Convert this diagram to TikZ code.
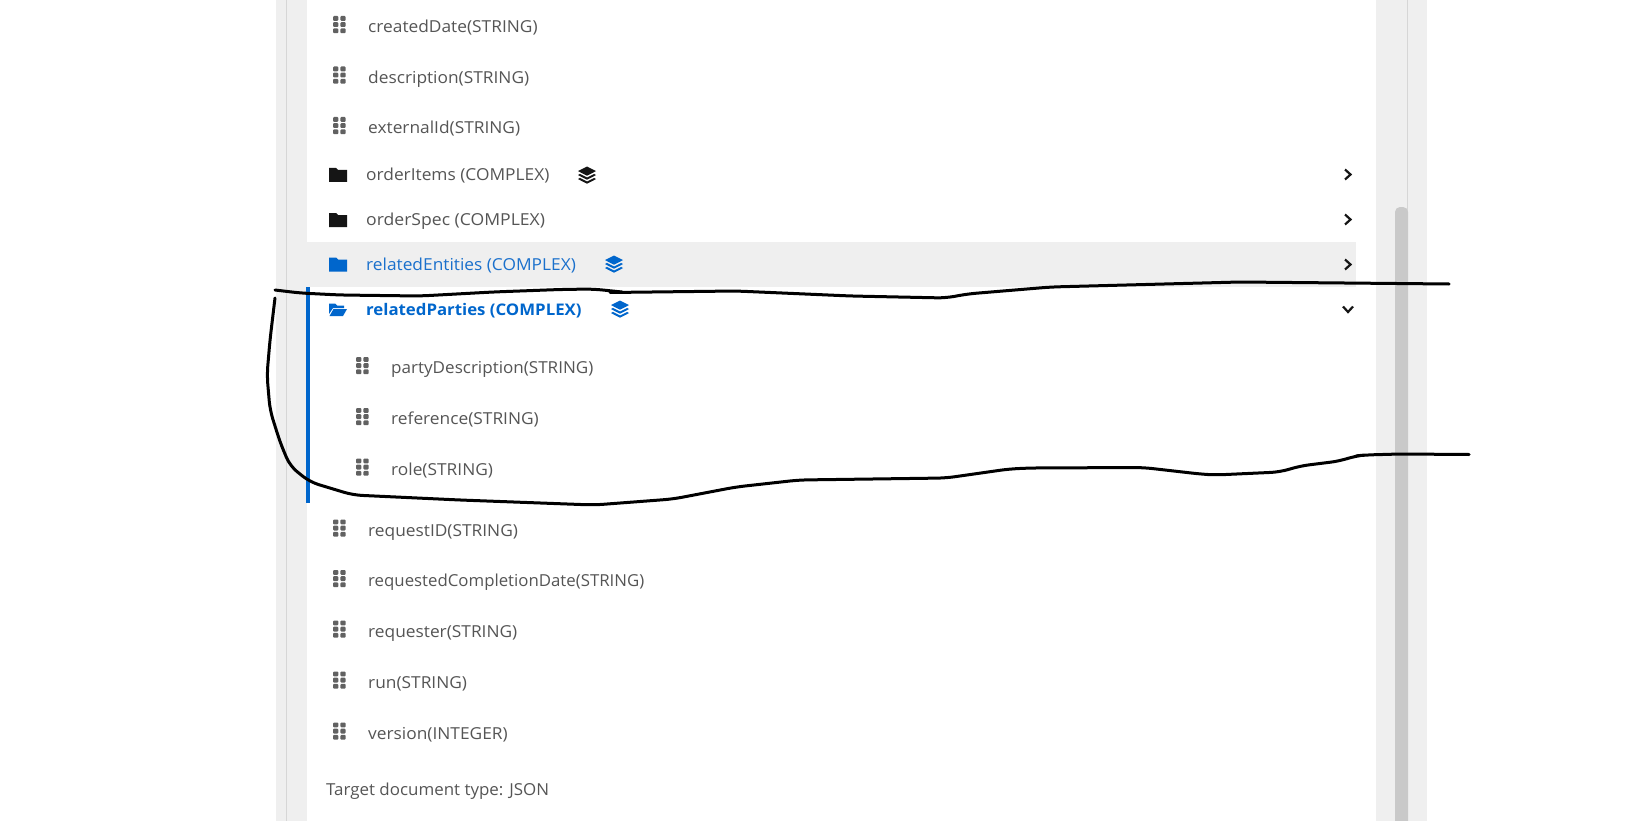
\documentclass[tikz,border=0pt]{standalone}
\usepackage{fontspec}
\setmainfont[FakeStretch=1.05]{Open Sans}
\definecolor{panel}{HTML}{EFEFEF}
\definecolor{rule}{HTML}{D6D6D6}
\definecolor{thumb}{HTML}{C9C9C9}
\definecolor{label}{HTML}{555555}
\definecolor{blue}{HTML}{0066CC}
\definecolor{softblue}{HTML}{1A70CC}
\definecolor{ink}{HTML}{151515}
\definecolor{dots}{HTML}{616161}
\tikzset{
  x=1pt,y=-1pt,
  rowlabel/.style={anchor=base west,inner sep=0pt,yshift=-0.5pt,text=label,font=\fontsize{16.5}{18}\selectfont},
  narrow/.style={xscale=#1,transform shape},
  bluelabel/.style={rowlabel,text=softblue},
  strongblue/.style={rowlabel,text=blue,font=\fontsize{16}{18}\selectfont\bfseries},
  stroke/.style={draw=black,line width=3pt,line cap=round,line join=round,rounded corners=9pt},
  chev/.style={draw=ink,line width=2.2pt,line cap=butt,line join=miter},
  pics/gridicon/.style={code={
    \foreach \px in {0,7.4}\foreach \py in {0,6.2,12.4}
      \fill[dots,rounded corners=1pt] (\px,\py) rectangle ++(5.3,4.8);
  }},
  pics/foldericon/.style={code={
    \fill[#1] (0,1) -- (7,1) -- (9,3) -- (18,3) -- (18,15) -- (0,15) -- cycle;
  }},
  pics/openfolder/.style={code={
    \fill[#1] (0,1.5) -- (6,1.5) -- (8,3.5) -- (15,3.5) -- (15,6) -- (4,6) -- (0,12) -- cycle;
    \fill[#1] (4.5,7) -- (18,7) -- (14,14) -- (0.5,14) -- cycle;
  }},
  pics/layersicon/.style={code={
    \fill[#1] (9,0) -- (18,4.6) -- (9,9.2) -- (0,4.6) -- cycle;
    \fill[#1] (1.8,7.4) -- (9,11) -- (16.2,7.4) -- (18,8.6) -- (9,13.2) -- (0,8.6) -- cycle;
    \fill[#1] (1.8,11.4) -- (9,15) -- (16.2,11.4) -- (18,12.6) -- (9,17.2) -- (0,12.6) -- cycle;
  }},
  pics/chevright/.style={code={\draw[chev] (-3,-5) -- (2.5,0) -- (-3,5);}},
  pics/chevdown/.style={code={\draw[chev] (-5,-3) -- (0,2.5) -- (5,-3);}},
}
\begin{document}
\begin{tikzpicture}
\useasboundingbox (0,0) rectangle (1648,821);
% panels
\fill[white] (0,0) rectangle (1648,821);
\fill[panel] (276,0) rectangle (306.5,821);
\fill[panel] (1376,0) rectangle (1427,821);
\draw[rule,line width=0.8pt] (286.5,0) -- (286.5,821);
\draw[rule,line width=0.8pt] (1407,0) -- (1407,821);
\fill[thumb,rounded corners=5pt] (1395,207) rectangle (1408,840);
\fill[panel] (306.5,242) rectangle (1356,287);
\fill[blue] (306,287) rectangle (310,503);
% leaf rows, top list
\pic at (333,16) {gridicon};
\node[rowlabel] (createdDate) at (368,32) {createdDate(STRING)};
\pic at (333,66.5) {gridicon};
\node[rowlabel] (description) at (368,83) {description(STRING)};
\pic at (333,117) {gridicon};
\node[rowlabel] (externalId) at (368,133.5) {externalId(STRING)};
% complex rows
\pic at (329,167) {foldericon={ink}};
\node[rowlabel] (orderItems) at (366,180.5) {orderItems (COMPLEX)};
\pic at (578,166.5) {layersicon={ink}};
\pic at (1348,174.5) {chevright};
\pic at (329,212) {foldericon={ink}};
\node[rowlabel,narrow=1.015] (orderSpec) at (366,225) {orderSpec (COMPLEX)};
\pic at (1348,219.5) {chevright};
\pic at (329,256.5) {foldericon={blue}};
\node[bluelabel] (relatedEntities) at (366,270) {relatedEntities (COMPLEX)};
\pic at (605,255.5) {layersicon={blue}};
\pic at (1348,264.5) {chevright};
\pic at (329,302) {openfolder={blue}};
\node[strongblue] (relatedParties) at (366,315) {relatedParties (COMPLEX)};
\pic at (611,300.5) {layersicon={blue}};
\pic at (1348,309.5) {chevdown};
% nested rows
\pic at (356,357) {gridicon};
\node[rowlabel,narrow=0.985] (partyDescription) at (391,373) {partyDescription(STRING)};
\pic at (356,408) {gridicon};
\node[rowlabel] (reference) at (391,423.5) {reference(STRING)};
\pic at (356,458.5) {gridicon};
\node[rowlabel] (role) at (391,474.5) {role(STRING)};
% lower rows
\pic at (333,519.5) {gridicon};
\node[rowlabel] (requestID) at (368,535.5) {requestID(STRING)};
\pic at (333,570) {gridicon};
\node[rowlabel,narrow=0.97] (requestedCompletionDate) at (368,586) {requestedCompletionDate(STRING)};
\pic at (333,620.5) {gridicon};
\node[rowlabel] (requester) at (368,636.5) {requester(STRING)};
\pic at (333,671.5) {gridicon};
\node[rowlabel] (run) at (368,687.5) {run(STRING)};
\pic at (333,722.5) {gridicon};
\node[rowlabel] (version) at (368,738.5) {version(INTEGER)};
\node[rowlabel,narrow=0.977] (target) at (326,794.5) {Target document type: JSON};
% hand-drawn strokes
\draw[stroke] (275,290) -- (300,293) -- (340,295) -- (420,296) -- (493,292) -- (560,289.5) -- (593,289) -- (622,292);
\draw[stroke] (610,292.5) -- (736,291) -- (851,296) -- (946,298) -- (967,294) -- (1051,287) -- (1240,282) -- (1449,284);
\draw[stroke] (275,298) -- (270,340) -- (267,375) -- (270,410) -- (280,442) -- (290,466) -- (310,482) -- (353,495) -- (460,500) -- (594,505) -- (673,499) -- (736,487) -- (799,480) -- (946,478) -- (1009,469) -- (1030,468) -- (1143,467.5) -- (1165,470) -- (1200,474) -- (1215,475) -- (1280,472) -- (1300,466) -- (1340,461) -- (1355,456) -- (1365,455) -- (1400,454) -- (1469,454.5);
\end{tikzpicture}
\end{document}
